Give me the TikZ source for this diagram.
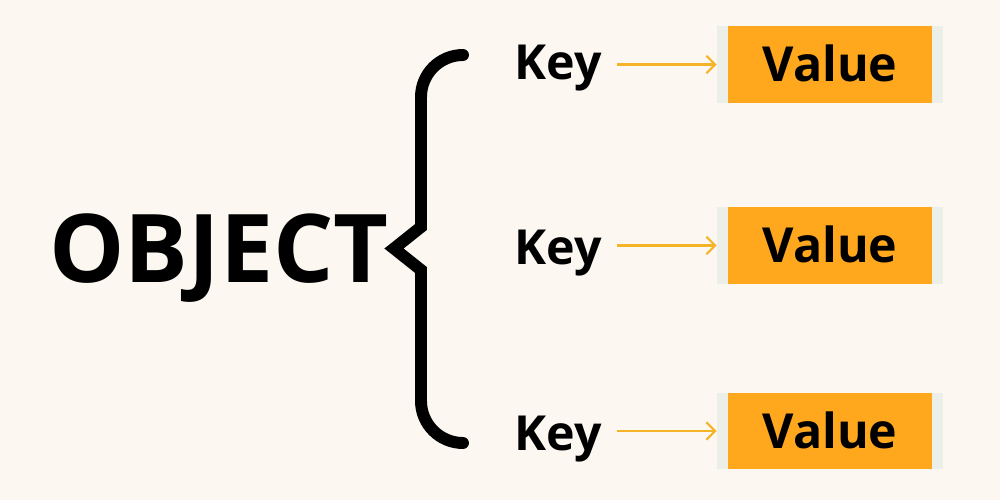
\documentclass[tikz,border=0pt]{standalone}
\usepackage{fontspec}
\setmainfont{Open Sans}
\usetikzlibrary{arrows.meta}
\definecolor{bg}{HTML}{FCF8F1}
\definecolor{orangebox}{HTML}{FFA81E}
\definecolor{graystrip}{HTML}{ECEEE8}
\definecolor{arrowcol}{HTML}{F5B428}
\begin{document}
\begin{tikzpicture}[x=0.02cm,y=-0.02cm,
  keytext/.style={anchor=base west,inner sep=0pt,font=\fontsize{27.5}{32}\selectfont\bfseries},
  strip/.style={fill=graystrip,draw=none,minimum width=4.52cm,minimum height=1.54cm,inner sep=0pt},
  valbox/.style={fill=orangebox,draw=none,minimum width=4.1cm,minimum height=1.54cm,inner sep=0pt,
    font=\fontsize{27.5}{32}\selectfont\bfseries,text height=19.6pt,text depth=0pt},
  conn/.style={draw=arrowcol,line width=1.2pt,-{Straight Barb[length=5pt,width=10pt,line width=1.2pt]},shorten <=8.5pt}
]
\fill[bg] (0,0) rectangle (1000,500);
\useasboundingbox (0,0) rectangle (1000,500);

\node[anchor=base west,inner sep=0pt,font=\fontsize{54}{60}\selectfont\bfseries] (obj) at (49,282) {OBJECT};

\draw[line width=6.8pt,line cap=round,line join=miter]
  (463,55) arc[start angle=270,end angle=180,radius=42] -- (421,227) -- (394,248.5) -- (421,270)
  -- (421,401) arc[start angle=180,end angle=90,radius=42];

\foreach \i/\ky/\vy in {1/80/64.5, 2/264/245.5, 3/450/431}{
  \node[keytext] (k\i) at (514,\ky) {Key};
  \node[strip] (g\i) at (830,\vy) {};
  \node[valbox] (v\i) at (830,\vy) {Value};
  \draw[conn] (k\i.east |- g\i.west) -- (g\i.west);
}
\end{tikzpicture}
\end{document}
